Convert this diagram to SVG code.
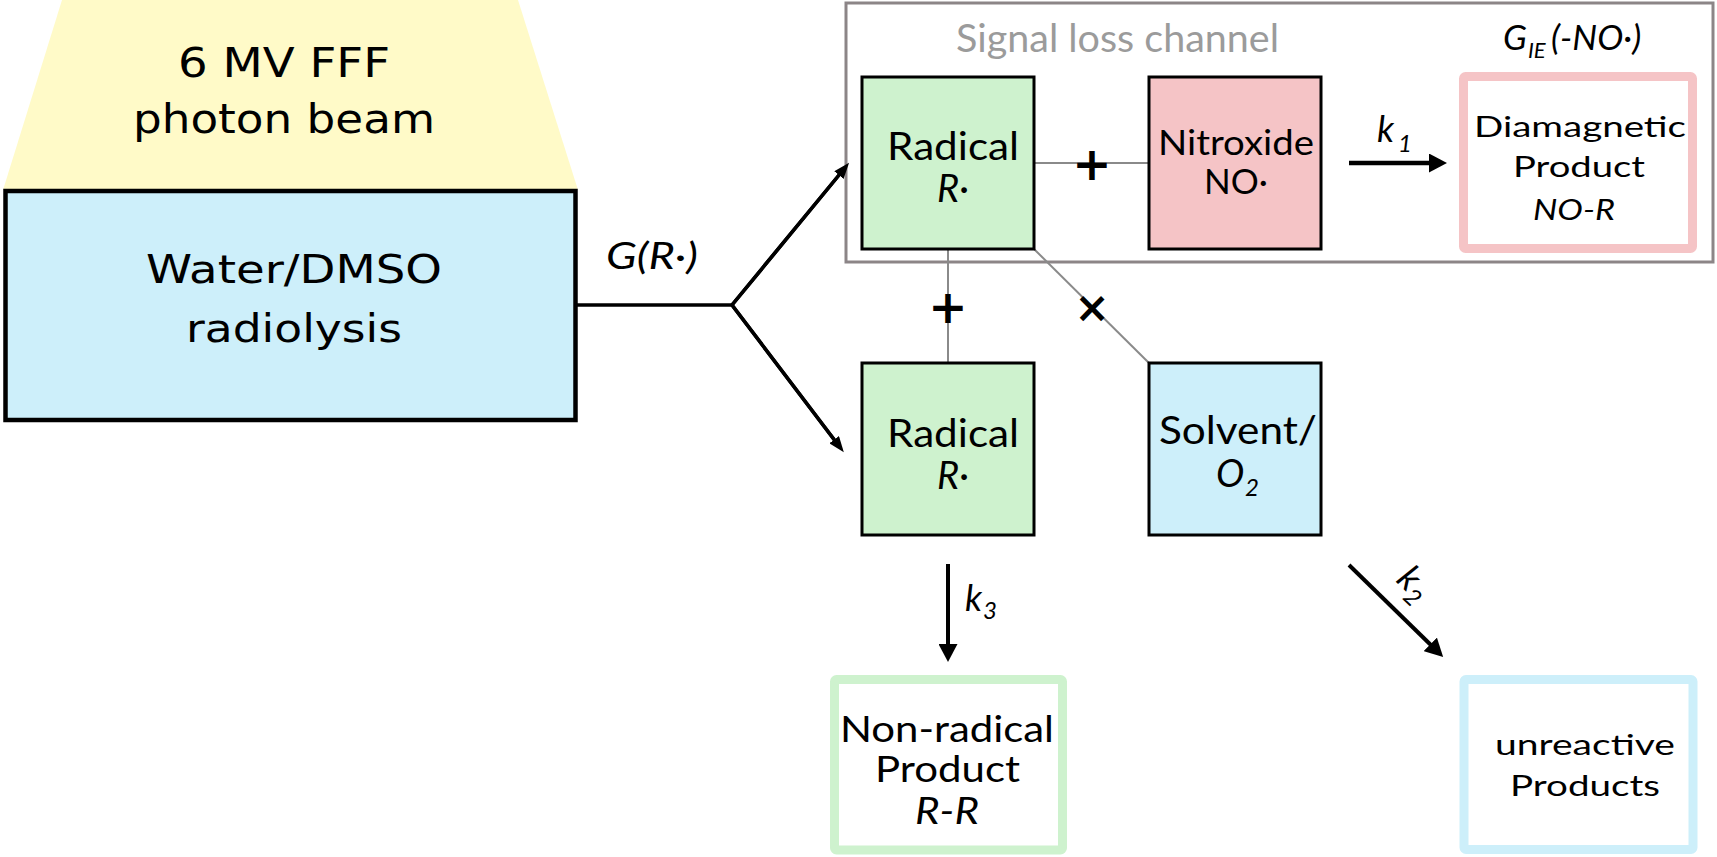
<svg xmlns="http://www.w3.org/2000/svg" width="1717" height="857" viewBox="0 0 1717 857">
<defs>
<style>
.sans{font-family:"DejaVu Sans","Liberation Sans",sans-serif;fill:#000}
.cal{font-family:Lato,"Open Sans","Liberation Sans",sans-serif;fill:#000}
.it{font-style:italic}
.box{stroke:#000;stroke-width:3}
.green{fill:#cef2ce}
.pink{fill:#f5c4c6}
.blue{fill:#cdeffa}
.link{stroke:#8a8a8a;stroke-width:2;fill:none}
.arr{stroke:#000;fill:none}
.sym{font-family:"DejaVu Sans",sans-serif;font-weight:bold;fill:#000;text-anchor:middle}
</style>
<marker id="ah" markerUnits="userSpaceOnUse" markerWidth="16" markerHeight="12" refX="8" refY="6" orient="auto"><path d="M0,0 L16,6 L0,12 z" fill="#000"/></marker>
<marker id="ahb" markerUnits="userSpaceOnUse" markerWidth="18" markerHeight="19" refX="8" refY="9.5" orient="auto"><path d="M0,0 L18,9.5 L0,19 z" fill="#000"/></marker>
</defs>
<rect width="1717" height="857" fill="#fff"/>

<g id="beam">
<polygon points="62,0 518,0 578,190 3,190" fill="#fffac8"/>
<text class="sans" x="178" y="77" font-size="41" textLength="212" lengthAdjust="spacingAndGlyphs">6 MV FFF</text>
<text class="sans" x="133" y="133" font-size="41" textLength="302" lengthAdjust="spacingAndGlyphs">photon beam</text>
</g>

<g id="radiolysis">
<rect x="5.5" y="191" width="570" height="229" class="blue" stroke="#000" stroke-width="4.5"/>
<text class="sans" x="146" y="283" font-size="39" textLength="296" lengthAdjust="spacingAndGlyphs">Water/DMSO</text>
<text class="sans" x="186" y="342" font-size="39" textLength="216" lengthAdjust="spacingAndGlyphs">radiolysis</text>
</g>

<g id="signal-loss-channel">
<rect x="846" y="3" width="867" height="259" fill="none" stroke="#8c8587" stroke-width="3"/>
<text class="cal" x="956" y="52" font-size="38" style="fill:#9b9b9b" textLength="323" lengthAdjust="spacingAndGlyphs">Signal loss channel</text>
<text class="cal it" font-size="35"><tspan x="1503" y="50">G</tspan><tspan x="1528" y="58" font-size="22">IE</tspan><tspan x="1551" y="50">(-NO·)</tspan></text>
</g>

<g id="connectors">
<line x1="576" y1="305" x2="732" y2="305" class="arr" stroke-width="3.5"/>
<polyline points="844,169 732,305 839,446" class="arr" stroke-width="3.5" stroke-linejoin="miter"/>
<line x1="732" y1="305" x2="844" y2="169" class="arr" stroke-width="3.5" marker-end="url(#ah)"/>
<line x1="732" y1="305" x2="839" y2="446" class="arr" stroke-width="3.5" marker-end="url(#ah)"/>
<line x1="1034" y1="163" x2="1149" y2="163" class="link"/>
<line x1="948" y1="249" x2="948" y2="363" class="link"/>
<line x1="1034" y1="249" x2="1149" y2="363" class="link"/>
<line x1="1349" y1="163" x2="1437" y2="163" class="arr" stroke-width="4.5" marker-end="url(#ahb)"/>
<line x1="948" y1="564" x2="948" y2="652" class="arr" stroke-width="4" marker-end="url(#ahb)"/>
<line x1="1349" y1="565" x2="1436" y2="650" class="arr" stroke-width="4" marker-end="url(#ahb)"/>
<text class="sym" x="1092" y="180" font-size="47">+</text>
<text class="sym" x="948" y="323" font-size="47">+</text>
<text class="sym" x="1092" y="322" font-size="42">×</text>
<text class="cal it" x="606" y="269" font-size="36" textLength="92" lengthAdjust="spacingAndGlyphs">G(R·)</text>
<text class="cal it" font-size="36"><tspan x="1377" y="142">k</tspan><tspan x="1398" y="152" font-size="24">1</tspan></text>
<text class="cal it" font-size="36"><tspan x="965" y="611">k</tspan><tspan x="983" y="619" font-size="24">3</tspan></text>
<text class="cal it" font-size="36" transform="translate(1395,581) rotate(44)"><tspan x="0" y="0">k</tspan><tspan x="17" y="8" font-size="24">2</tspan></text>
</g>

<g id="radical-top">
<rect x="862" y="77" width="172" height="172" class="box green"/>
<text class="cal" x="887" y="160" font-size="38" textLength="132" lengthAdjust="spacingAndGlyphs">Radical</text>
<text class="cal it" x="953" y="202" font-size="38" text-anchor="middle">R·</text>
</g>

<g id="nitroxide">
<rect x="1149" y="77" width="172" height="172" class="box pink"/>
<text class="cal" x="1158" y="155" font-size="35" textLength="156" lengthAdjust="spacingAndGlyphs">Nitroxide</text>
<text class="cal" x="1236" y="194" font-size="35" text-anchor="middle">NO·</text>
</g>

<g id="diamagnetic-product">
<rect x="1463.5" y="76.5" width="229" height="172" rx="2" fill="#fff" stroke="#f5c4c6" stroke-width="9"/>
<text class="cal" x="1474" y="137" font-size="29" textLength="212" lengthAdjust="spacingAndGlyphs">Diamagnetic</text>
<text class="cal" x="1513" y="177" font-size="29" textLength="132" lengthAdjust="spacingAndGlyphs">Product</text>
<text class="cal it" x="1533" y="220" font-size="29" textLength="82" lengthAdjust="spacingAndGlyphs">NO-R</text>
</g>

<g id="radical-bottom">
<rect x="862" y="363" width="172" height="172" class="box green"/>
<text class="cal" x="887" y="447" font-size="38" textLength="132" lengthAdjust="spacingAndGlyphs">Radical</text>
<text class="cal it" x="953" y="489" font-size="38" text-anchor="middle">R·</text>
</g>

<g id="solvent">
<rect x="1149" y="363" width="172" height="172" class="box blue"/>
<text class="cal" x="1159" y="444" font-size="38" textLength="158" lengthAdjust="spacingAndGlyphs">Solvent/</text>
<text class="cal it" font-size="38"><tspan x="1216" y="487">O</tspan><tspan x="1245" y="496" font-size="24">2</tspan></text>
</g>

<g id="non-radical-product">
<rect x="834.5" y="679.5" width="228" height="170.5" rx="2" fill="#fff" stroke="#cef2ce" stroke-width="9"/>
<text class="cal" x="840" y="742" font-size="36" textLength="214" lengthAdjust="spacingAndGlyphs">Non-radical</text>
<text class="cal" x="875" y="782" font-size="36" textLength="145" lengthAdjust="spacingAndGlyphs">Product</text>
<text class="cal it" x="915" y="824" font-size="36" textLength="64" lengthAdjust="spacingAndGlyphs">R-R</text>
</g>

<g id="unreactive-products">
<rect x="1464" y="679.5" width="229" height="170" rx="2" fill="#fff" stroke="#cdeffa" stroke-width="9"/>
<text class="cal" x="1495" y="755" font-size="29" textLength="180" lengthAdjust="spacingAndGlyphs">unreactive</text>
<text class="cal" x="1510" y="796" font-size="29" textLength="150" lengthAdjust="spacingAndGlyphs">Products</text>
</g>
</svg>
